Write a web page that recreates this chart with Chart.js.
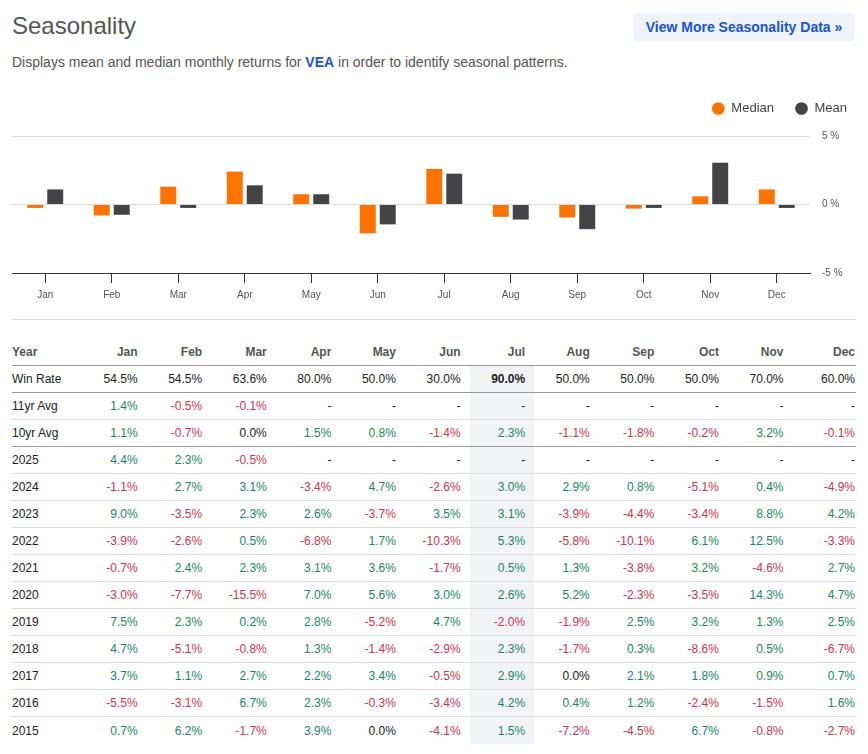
<!DOCTYPE html>
<html>
<head>
<meta charset="utf-8">
<title>Seasonality</title>
<script src="https://cdn.jsdelivr.net/npm/chart.js@4.4.1/dist/chart.umd.min.js"></script>
<style>
  html, body { margin: 0; padding: 0; background: #fff; }
  body { width: 868px; height: 754px; position: relative; overflow: hidden;
         font-family: Arial, "Liberation Sans", sans-serif; color: #555; }
  .title { position: absolute; left: 12px; top: 11px; font-size: 24px; line-height: 30px; color: #555; }
  .more { position: absolute; left: 633px; top: 13px; width: 222px; height: 28px; line-height: 28px;
          background: #eef2f9; border-radius: 4px; text-align: center;
          font-size: 14px; font-weight: bold; color: #1a55d0; }
  .sub { position: absolute; left: 12px; top: 53px; font-size: 14px; line-height: 18px; color: #555; }
  .sub b { color: #1a55d0; }
  .chart-box { position: absolute; left: 0; top: 80px; width: 868px; height: 240px; }
  .sep { position: absolute; left: 12px; top: 319px; width: 844px; height: 1px; background: #ddd; }
  table { position: absolute; left: 12px; top: 339px; width: 844px; border-collapse: collapse; table-layout: fixed;
          font-size: 12px; }
  th, td { height: 26px; padding: 0 9px 0 0; text-align: right; white-space: nowrap; }
  th:first-child, td:first-child { text-align: left; padding: 0; color: #222; }
  th:last-child, td:last-child { padding-right: 1px; }
  th { font-weight: bold; color: #555; border-bottom: 1px solid #999; }
  th:first-child { color: #555; }
  tr.strong td { border-bottom: 1px solid #999; }
  tr.light td { border-bottom: 1px solid #ddd; }
  tr.last td { height: 27px; }
  td.hl { background: #f3f4f7; }
  .pos { color: #1a8760; }
  .neg { color: #cc3450; }
  .zero { color: #222; }
</style>
</head>
<body>
<div class="title">Seasonality</div>
<div class="more">View More Seasonality Data »</div>
<div class="sub">Displays mean and median monthly returns for <b>VEA</b> in order to identify seasonal patterns.</div>
<div class="chart-box"><canvas id="chart"></canvas></div>
<div class="sep"></div>
<table id="table">
  <colgroup id="cols"></colgroup>
  <thead><tr id="head"></tr></thead>
  <tbody id="body"></tbody>
</table>

<script>
  // ---------------------------------------------------------------------------
  // Data
  // ---------------------------------------------------------------------------

  var MONTHS = ['Jan', 'Feb', 'Mar', 'Apr', 'May', 'Jun', 'Jul', 'Aug', 'Sep', 'Oct', 'Nov', 'Dec'];

  // bar heights (percent)
  var MEDIAN = [-0.25, -0.8, 1.3, 2.4, 0.75, -2.1, 2.6, -0.9, -0.95, -0.3, 0.6, 1.1];
  var MEAN   = [1.1, -0.75, -0.25, 1.4, 0.75, -1.45, 2.25, -1.1, -1.8, -0.25, 3.05, -0.25];

  var Y_TICKS = [-5, 0, 5];

  var WIN_RATE = [54.5, 54.5, 63.6, 80.0, 50.0, 30.0, 90.0, 50.0, 50.0, 50.0, 70.0, 60.0];
  var AVG_11YR = [1.4, -0.5, -0.1, null, null, null, null, null, null, null, null, null];
  var AVG_10YR = [1.1, -0.7, 0.0, 1.5, 0.8, -1.4, 2.3, -1.1, -1.8, -0.2, 3.2, -0.1];

  var Y2025 = [4.4, 2.3, -0.5, null, null, null, null, null, null, null, null, null];
  var Y2024 = [-1.1, 2.7, 3.1, -3.4, 4.7, -2.6, 3.0, 2.9, 0.8, -5.1, 0.4, -4.9];
  var Y2023 = [9.0, -3.5, 2.3, 2.6, -3.7, 3.5, 3.1, -3.9, -4.4, -3.4, 8.8, 4.2];
  var Y2022 = [-3.9, -2.6, 0.5, -6.8, 1.7, -10.3, 5.3, -5.8, -10.1, 6.1, 12.5, -3.3];
  var Y2021 = [-0.7, 2.4, 2.3, 3.1, 3.6, -1.7, 0.5, 1.3, -3.8, 3.2, -4.6, 2.7];
  var Y2020 = [-3.0, -7.7, -15.5, 7.0, 5.6, 3.0, 2.6, 5.2, -2.3, -3.5, 14.3, 4.7];
  var Y2019 = [7.5, 2.3, 0.2, 2.8, -5.2, 4.7, -2.0, -1.9, 2.5, 3.2, 1.3, 2.5];
  var Y2018 = [4.7, -5.1, -0.8, 1.3, -1.4, -2.9, 2.3, -1.7, 0.3, -8.6, 0.5, -6.7];
  var Y2017 = [3.7, 1.1, 2.7, 2.2, 3.4, -0.5, 2.9, 0.0, 2.1, 1.8, 0.9, 0.7];
  var Y2016 = [-5.5, -3.1, 6.7, 2.3, -0.3, -3.4, 4.2, 0.4, 1.2, -2.4, -1.5, 1.6];
  var Y2015 = [0.7, 6.2, -1.7, 3.9, 0.0, -4.1, 1.5, -7.2, -4.5, 6.7, -0.8, -2.7];

  var YEAR_ROWS = [
    ['2025', Y2025], ['2024', Y2024], ['2023', Y2023], ['2022', Y2022],
    ['2021', Y2021], ['2020', Y2020], ['2019', Y2019], ['2018', Y2018],
    ['2017', Y2017], ['2016', Y2016], ['2015', Y2015]
  ];

  var FONT = 'Arial, "Liberation Sans", sans-serif';

  // ---------------------------------------------------------------------------
  // Chart
  // ---------------------------------------------------------------------------

  // extra space between the legend and the plot
  var legendGap = {
    id: 'legendGap',
    beforeInit: function (chart) {
      var fit = chart.legend.fit;
      chart.legend.fit = function () {
        fit.call(chart.legend);
        this.height += 11;
      };
    }
  };

  new Chart(document.getElementById('chart'), {
    type: 'bar',
    data: {
      labels: MONTHS,
      datasets: [
        { label: 'Median', data: MEDIAN, backgroundColor: '#ff7300', borderWidth: 0 },
        { label: 'Mean',   data: MEAN,   backgroundColor: '#434348', borderWidth: 0 }
      ]
    },
    options: {
      responsive: true,
      maintainAspectRatio: false,
      animation: false,
      categoryPercentage: 0.6,
      barPercentage: 0.8,
      layout: { padding: { left: 12, top: 1, right: 0, bottom: 0 } },
      plugins: {
        tooltip: { enabled: false },
        legend: {
          position: 'top',
          align: 'end',
          labels: {
            usePointStyle: true,
            pointStyle: 'circle',
            boxWidth: 13,
            boxHeight: 9,
            padding: 21,
            color: '#444',
            font: { size: 13, family: FONT }
          }
        }
      },
      scales: {
        x: {
          grid: { offset: false, drawOnChartArea: false, drawTicks: true, tickLength: 10, color: '#333' },
          border: { color: '#333', width: 1 },
          ticks: { color: '#555', padding: 6, font: { size: 10, family: FONT } },
          afterFit: function (s) { s.height = 47; }
        },
        y: {
          position: 'right',
          min: -5,
          max: 5,
          afterBuildTicks: function (s) { s.ticks = Y_TICKS.map(function (v) { return { value: v }; }); },
          grid: { color: '#ddd', drawTicks: false },
          border: { display: false },
          ticks: {
            padding: 12,
            color: '#555',
            font: { size: 10, family: FONT },
            callback: function (v) { return v + ' %'; }
          },
          afterFit: function (s) { s.width = 58; }
        }
      }
    },
    plugins: [legendGap]
  });

  // ---------------------------------------------------------------------------
  // Table
  // ---------------------------------------------------------------------------

  var best = WIN_RATE.indexOf(Math.max.apply(null, WIN_RATE));

  function pctCell(v) {
    var td = document.createElement('td');
    if (v == null) { td.textContent = '-'; td.className = 'zero'; return td; }
    td.textContent = v.toFixed(1) + '%';
    td.className = v > 0 ? 'pos' : (v < 0 ? 'neg' : 'zero');
    return td;
  }

  function addRow(label, values, cls, plain) {
    var tr = document.createElement('tr');
    tr.className = cls;
    var first = document.createElement('td');
    first.textContent = label;
    tr.appendChild(first);
    values.forEach(function (v, i) {
      var td;
      if (plain) {
        td = document.createElement('td');
        td.textContent = v.toFixed(1) + '%';
        td.style.color = '#222';
        if (i === best) td.style.fontWeight = 'bold';
      } else {
        td = pctCell(v);
      }
      if (i === best) td.className += ' hl';
      tr.appendChild(td);
    });
    document.getElementById('body').appendChild(tr);
  }

  var cols = document.getElementById('cols');
  [70].concat(MONTHS.map(function (m, i) { return i === 11 ? 63.4 : 64.6; })).forEach(function (w) {
    var c = document.createElement('col');
    c.style.width = w + 'px';
    cols.appendChild(c);
  });

  var head = document.getElementById('head');
  ['Year'].concat(MONTHS).forEach(function (t) {
    var th = document.createElement('th');
    th.textContent = t;
    head.appendChild(th);
  });

  addRow('Win Rate', WIN_RATE, 'strong', true);
  addRow('11yr Avg', AVG_11YR, 'light');
  addRow('10yr Avg', AVG_10YR, 'strong');
  YEAR_ROWS.forEach(function (r, i) {
    addRow(r[0], r[1], i === YEAR_ROWS.length - 1 ? 'last' : 'light');
  });
</script>
</body>
</html>
